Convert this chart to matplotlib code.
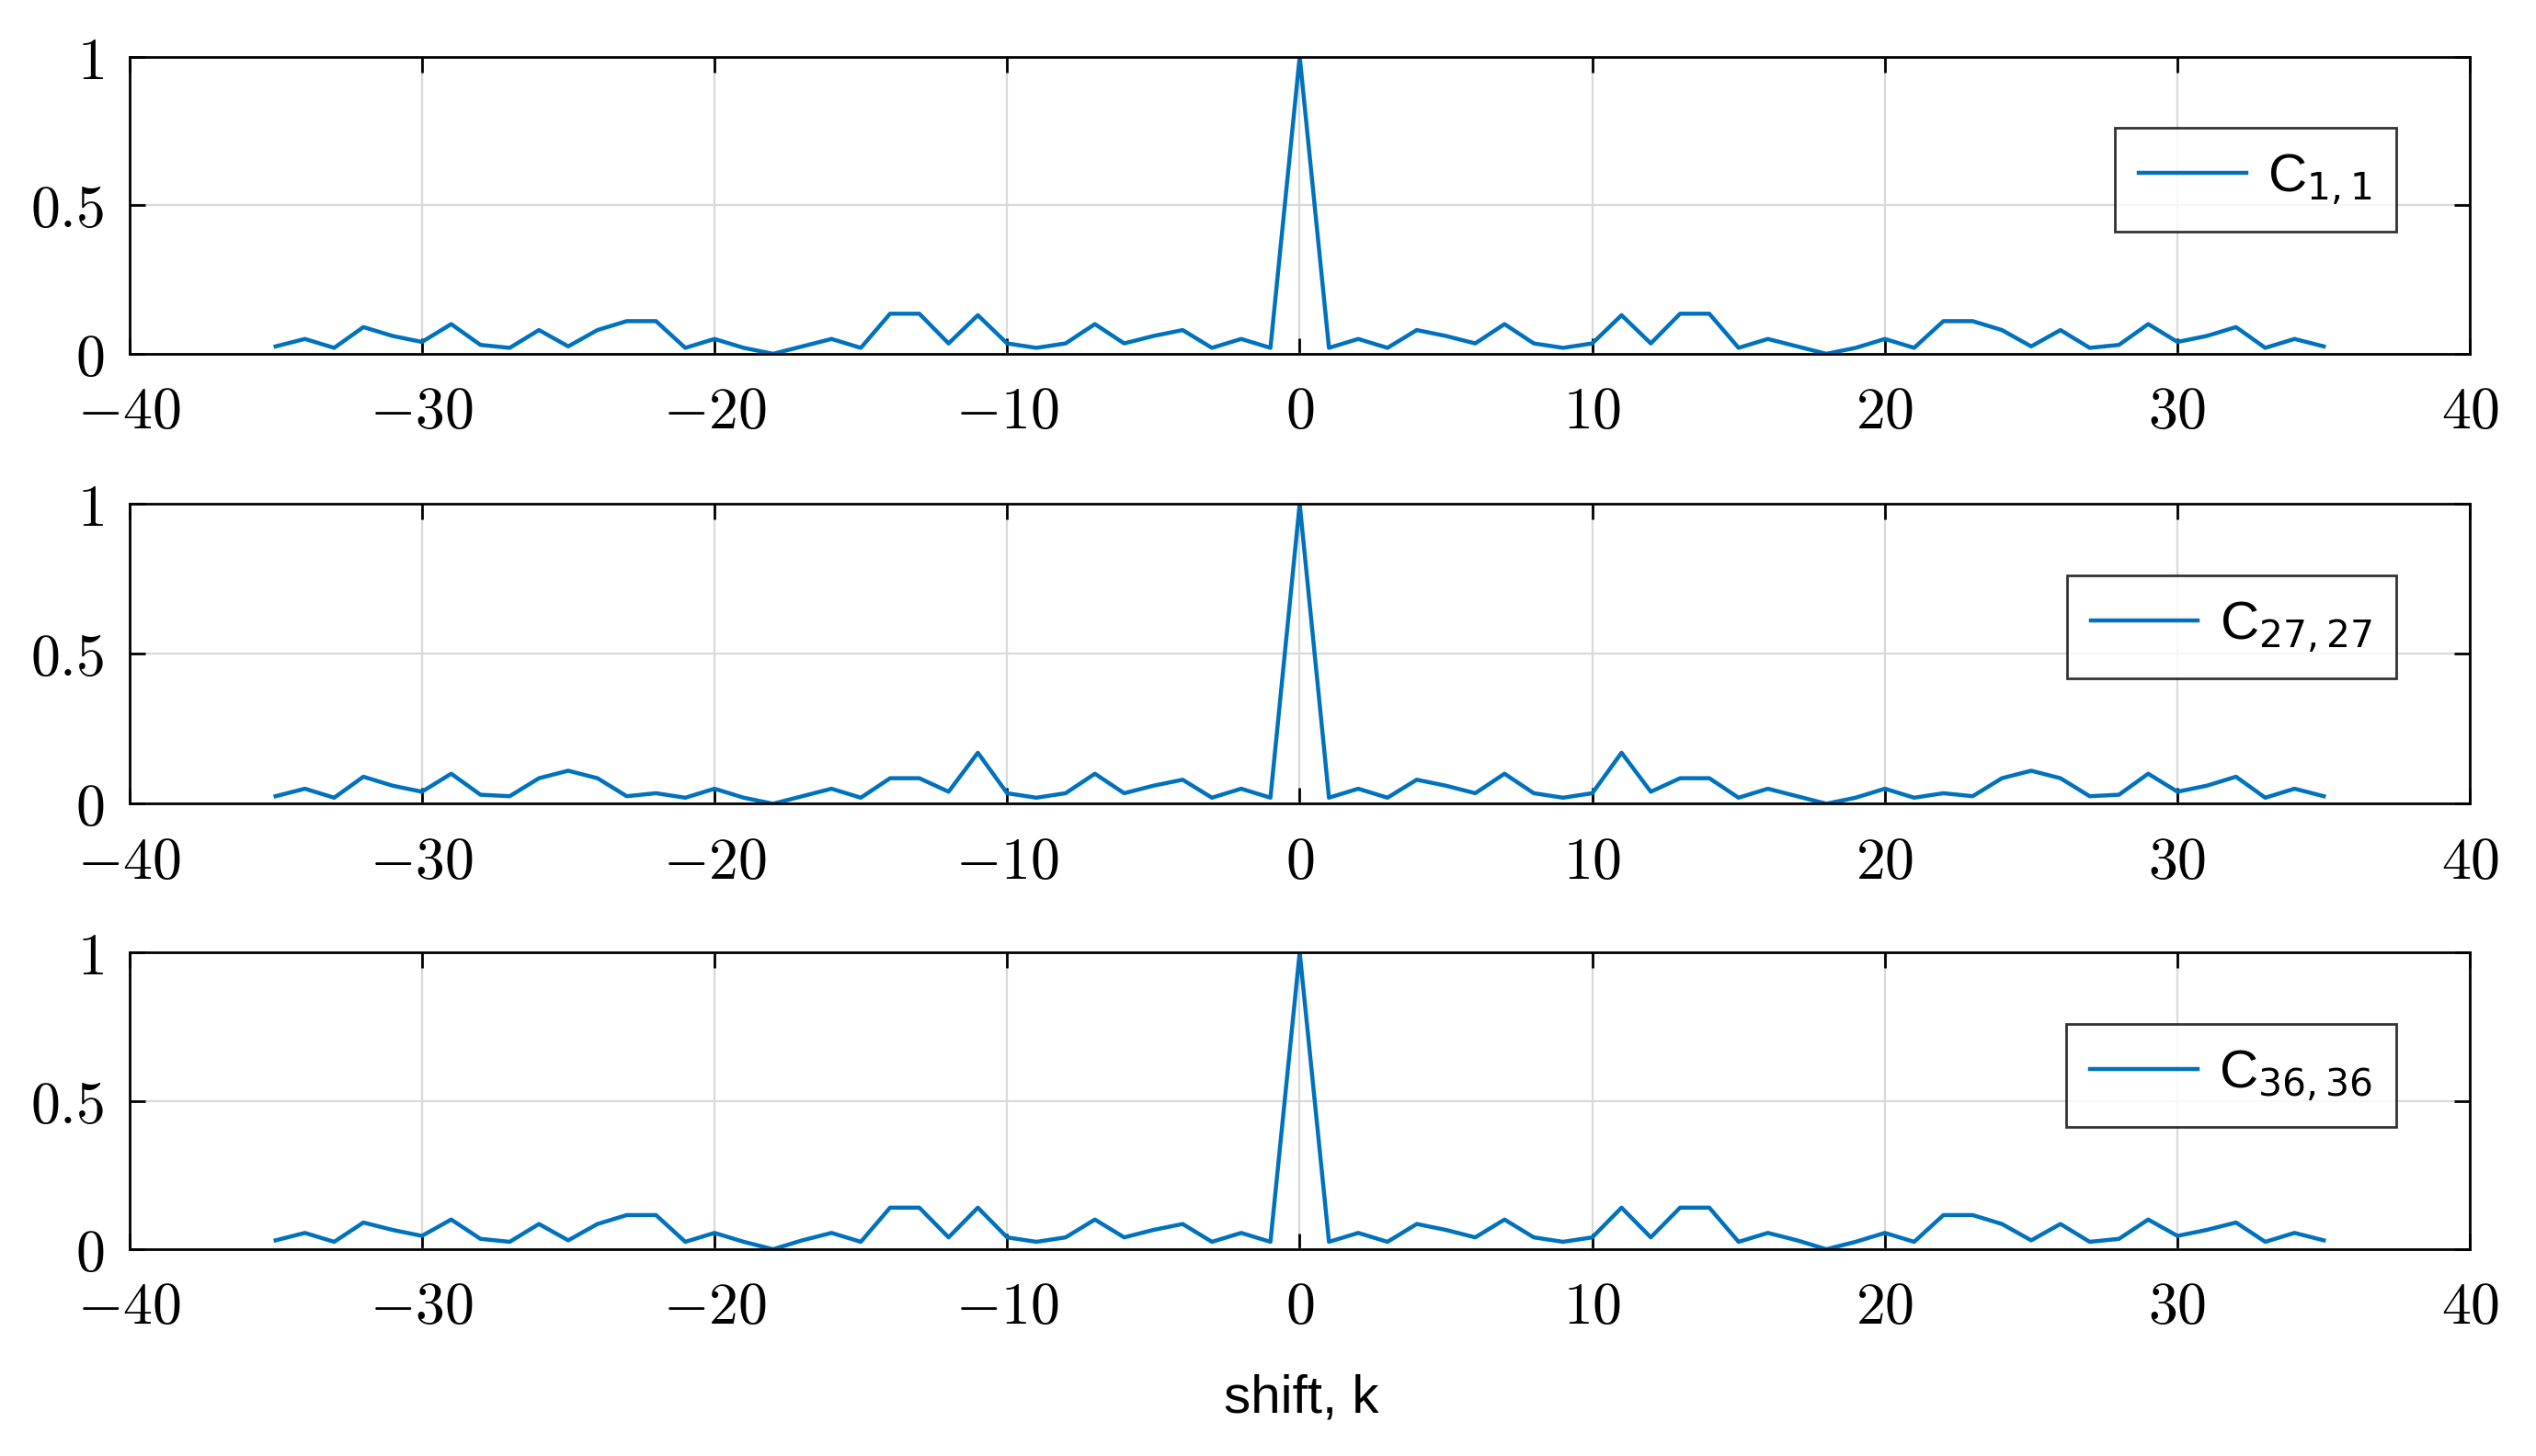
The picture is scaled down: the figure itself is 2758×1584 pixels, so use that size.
import matplotlib
matplotlib.use("Agg")
import matplotlib.pyplot as plt
from matplotlib.font_manager import FontProperties
import numpy as np

plt.rcParams['mathtext.fontset'] = 'cm'
plt.rcParams['font.family'] = 'serif'
plt.rcParams['font.serif'] = ['DejaVu Serif']

# positive-side values k = 1..35 (autocorrelation is symmetric)
c11_pos = [0.02,0.05,0.02,0.08,0.06,0.035,0.10,0.035,0.02,0.035,0.13,0.035,0.135,0.135,0.02,0.05,0.025,0.0,
           0.02,0.05,0.02,0.11,0.11,0.08,0.025,0.08,0.02,0.03,0.10,0.04,0.06,0.09,0.02,0.05,0.025]
c27_pos = [0.02,0.05,0.02,0.08,0.06,0.035,0.10,0.035,0.02,0.035,0.17,0.04,0.085,0.085,0.02,0.05,0.025,0.0,
           0.02,0.05,0.02,0.035,0.025,0.085,0.11,0.085,0.025,0.03,0.10,0.04,0.06,0.09,0.02,0.05,0.025]
c36_pos = [0.025,0.055,0.025,0.085,0.065,0.04,0.10,0.04,0.025,0.04,0.14,0.04,0.14,0.14,0.025,0.055,0.03,0.0,
           0.025,0.055,0.025,0.115,0.115,0.085,0.03,0.085,0.025,0.035,0.10,0.045,0.065,0.09,0.025,0.055,0.03]
peak = 1.0
shifts = list(range(-35, 36))
labels = [r'C$_{1,1}$', r'C$_{27,27}$', r'C$_{36,36}$']
series = [c[::-1] + [peak] + c for c in (c11_pos, c27_pos, c36_pos)]

fig = plt.figure(figsize=(13.79, 7.92), dpi=200)
rects = [(0.051, 0.757, 0.923, 0.204), (0.051, 0.448, 0.923, 0.206), (0.051, 0.142, 0.923, 0.204)]
for r, y, lab in zip(rects, series, labels):
    ax = fig.add_axes(r)
    ax.plot(shifts, y, color='#0072BD', lw=1.6, label=lab)
    ax.set_xlim(-40, 40)
    ax.set_ylim(0, 1)
    ax.set_xticks(range(-40, 41, 10))
    ax.set_yticks([0, 0.5, 1])
    ax.set_xticklabels([f'${v}$' for v in range(-40, 41, 10)])
    ax.set_yticklabels(['$0$', '$0.5$', '$1$'])
    ax.tick_params(direction='in', top=True, right=True, labelsize=23, length=6, width=1)
    ax.tick_params(axis='x', pad=12)
    ax.tick_params(axis='y', pad=10)
    ax.grid(True, color='#d9d9d9', lw=0.8)
    for s in ax.spines.values():
        s.set_linewidth(1.0)
    fp = FontProperties(family='Liberation Sans', size=21, math_fontfamily='dejavusans')
    leg = ax.legend(loc='upper right', bbox_to_anchor=(0.98, 0.85), fancybox=False, edgecolor='black',
                    prop=fp, handlelength=2.0, borderpad=0.45, handletextpad=0.4)
    leg.get_frame().set_linewidth(1.0)
fig.text(0.513, 0.03, 'shift, k', ha='center', fontsize=21, family='Liberation Sans')
fig.savefig('out.png', dpi=200, facecolor='white')
